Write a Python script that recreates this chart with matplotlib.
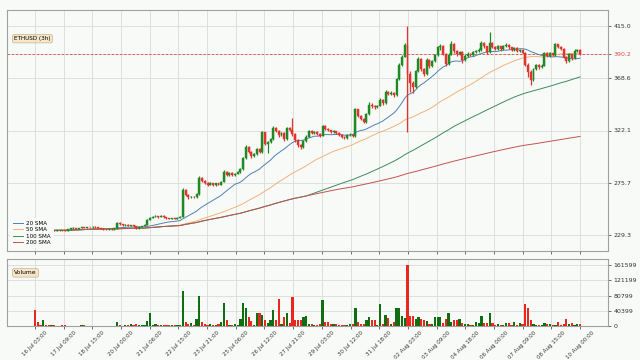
import numpy as np
import pandas as pd
import matplotlib
matplotlib.use("Agg")
import matplotlib.pyplot as plt

# ETHUSD 3h candles, 16 Jul 03:00 -> 10 Aug 00:00
start_time = "2020-07-16 03:00"
first_open = 234.6

closes = [
    233.9, 233.5, 233.3, 234.1, 233.9, 233.4, 233.8, 233.2, 233.6, 233.9,
    233.5, 233.3, 234.6, 235.3, 235.8, 235.2, 235.6, 236.3, 235.9, 236.6,
    236.2, 236.9, 236.4, 235.7, 235.2, 234.8, 234.4, 235.1, 234.6, 235.3,
    240.2, 238.9, 238.1, 238.7, 237.6, 238.2, 237.5, 235.4, 236.8, 237.4,
    238.3, 242.8, 244.9, 245.6, 246.2, 245.4, 246.5, 245.3, 244.6, 243.8,
    244.5, 244.1, 245.0, 245.8, 269.5, 265.2, 262.8, 263.5, 262.9, 265.6,
    279.8, 277.5, 275.8, 274.2, 275.6, 273.5, 275.2, 274.1, 276.5, 285.4,
    282.6, 284.6, 282.4, 283.8, 285.2, 287.9, 297.6, 307.8, 303.4, 299.6,
    301.2, 305.8, 303.1, 320.4, 310.6, 312.0, 314.5, 324.6, 321.8, 318.5,
    319.8, 314.2, 324.0, 322.8, 318.7, 313.4, 309.2, 307.2, 312.5, 316.8,
    321.4, 319.6, 320.8, 318.9, 317.6, 326.0, 323.9, 322.2, 320.7, 321.5,
    319.8, 318.4, 316.2, 315.3, 317.9, 318.6, 317.2, 340.8, 335.2, 332.4,
    329.8, 336.5, 345.1, 343.8, 342.6, 344.1, 349.5, 346.2, 356.4, 354.6,
    355.8, 353.4, 367.5, 380.2, 387.6, 397.8, 372.5, 364.2, 361.0, 374.8,
    385.2, 376.4, 372.0, 384.6, 379.5, 383.6, 388.7, 395.8, 397.2, 390.4,
    381.2, 389.5, 398.6, 392.4, 389.7, 391.8, 384.3, 388.5, 390.2, 389.1,
    391.4, 392.6, 393.8, 399.5, 396.8, 391.6, 399.6, 396.2, 394.5, 396.8,
    394.1, 397.3, 398.2, 395.9, 393.8, 395.2, 392.6, 393.9, 391.2, 380.6,
    373.8, 366.8, 376.9, 380.2, 378.4, 379.6, 390.8, 388.4, 390.5, 389.2,
    398.5, 396.1, 394.3, 387.2, 383.9, 389.6, 386.2, 392.8, 393.5, 390.2,
]

highs = [
    235.1, 234.3, 234.0, 234.6, 234.5, 234.2, 234.2, 234.0, 234.0, 234.3,
    234.2, 233.9, 235.0, 235.7, 236.2, 236.1, 236.0, 236.8, 236.7, 237.0,
    237.0, 237.4, 237.2, 236.7, 236.0, 235.5, 235.1, 235.5, 235.4, 235.7,
    241.0, 240.6, 239.3, 239.2, 239.0, 238.7, 238.6, 237.8, 237.2, 237.8,
    238.8, 243.4, 245.8, 246.3, 246.9, 246.6, 247.0, 246.8, 245.7, 245.0,
    245.0, 244.9, 245.5, 246.4, 271.2, 270.1, 265.8, 264.4, 264.2, 266.4,
    281.5, 280.6, 278.2, 276.4, 276.5, 276.0, 275.9, 275.8, 277.3, 287.0,
    286.0, 285.3, 285.0, 284.5, 286.0, 288.8, 299.0, 309.4, 308.6, 304.0,
    302.3, 307.0, 306.6, 322.0, 321.2, 313.2, 315.6, 326.1, 325.4, 323.0,
    320.9, 320.5, 325.2, 325.0, 333.2, 319.6, 314.2, 310.3, 313.6, 318.0,
    322.6, 322.2, 321.8, 321.5, 319.7, 327.4, 326.8, 324.6, 323.0, 322.4,
    322.1, 320.4, 319.0, 316.9, 318.7, 319.5, 319.3, 342.4, 341.5, 336.0,
    333.1, 338.0, 347.8, 346.4, 344.9, 345.2, 351.0, 350.3, 358.2, 357.5,
    357.0, 356.5, 369.0, 381.8, 389.0, 399.5, 415.0, 374.8, 366.0, 376.2,
    387.3, 386.0, 377.5, 386.0, 385.5, 384.9, 390.0, 397.3, 398.5, 397.8,
    391.2, 390.8, 401.3, 399.4, 393.3, 393.0, 392.5, 389.6, 391.4, 391.0,
    392.4, 393.6, 395.0, 401.2, 400.3, 397.5, 409.4, 400.5, 397.0, 397.9,
    397.5, 398.4, 399.5, 399.0, 396.6, 396.3, 396.0, 394.8, 394.6, 392.0,
    381.8, 375.5, 378.0, 381.5, 381.0, 380.8, 392.2, 391.6, 391.6, 391.3,
    400.1, 399.2, 397.0, 395.0, 388.0, 390.8, 390.3, 394.0, 394.8, 394.2,
]

lows = [
    229.3, 232.8, 232.9, 233.0, 233.5, 233.0, 233.1, 232.8, 232.9, 233.3,
    233.1, 232.9, 233.1, 234.3, 235.0, 234.9, 234.9, 235.3, 235.5, 235.6,
    235.8, 235.9, 236.0, 235.3, 234.8, 234.3, 234.0, 234.1, 234.2, 234.3,
    235.0, 238.3, 237.6, 237.8, 237.1, 237.3, 237.0, 234.6, 235.1, 236.5,
    237.1, 238.0, 242.4, 244.5, 245.2, 244.9, 245.1, 244.8, 244.1, 243.3,
    243.4, 243.6, 243.8, 244.7, 245.4, 264.3, 261.7, 262.0, 262.1, 262.5,
    265.2, 276.4, 275.0, 273.3, 273.8, 272.6, 273.0, 273.4, 273.8, 276.1,
    281.5, 282.0, 281.6, 281.9, 283.2, 284.6, 287.3, 296.8, 302.1, 298.2,
    298.8, 300.6, 301.9, 302.6, 309.3, 302.5, 311.2, 313.9, 320.6, 316.8,
    317.6, 312.8, 313.6, 321.7, 317.5, 312.1, 307.8, 305.4, 306.5, 311.8,
    316.0, 318.7, 318.9, 318.0, 316.6, 317.0, 322.8, 321.3, 319.8, 320.0,
    318.9, 317.5, 315.2, 314.2, 314.8, 317.2, 316.3, 316.8, 333.9, 331.2,
    328.4, 329.2, 336.0, 342.5, 341.3, 341.9, 343.5, 345.0, 345.7, 353.2,
    353.9, 351.8, 352.8, 366.9, 379.4, 386.9, 321.0, 356.3, 355.2, 360.2,
    373.9, 374.8, 370.3, 371.2, 377.8, 378.6, 382.8, 387.9, 393.6, 389.0,
    379.6, 380.4, 388.8, 391.0, 388.2, 388.8, 382.2, 383.5, 387.6, 388.0,
    388.4, 390.5, 391.8, 393.0, 395.6, 390.2, 390.9, 395.0, 393.2, 393.8,
    393.0, 393.4, 396.4, 394.8, 392.5, 393.0, 391.5, 391.8, 390.1, 379.2,
    369.6, 362.4, 366.0, 376.0, 377.0, 377.5, 378.9, 387.2, 387.6, 388.3,
    388.6, 395.0, 393.1, 386.0, 382.3, 383.2, 385.0, 385.6, 391.9, 389.3,
]

volumes = [
    43000, 10000, 3000, 15000, 4000, 4000, 2000, 3500, 1500, 1200,
    3000, 3500, 1500, 1000, 800, 1200, 1000, 1800, 2500, 1500,
    900, 1200, 800, 1000, 700, 900, 1100, 800, 1300, 1000,
    10000, 3500, 1500, 4000, 3000, 4500, 3500, 6000, 2500, 2000,
    3000, 14000, 35000, 4000, 4500, 2500, 2000, 2500, 3000, 3500,
    2500, 3000, 2500, 3500, 92000, 12000, 6000, 9000, 3500, 19000,
    79000, 10000, 5000, 4000, 5500, 3500, 4000, 5000, 10000, 62000,
    15000, 4000, 3500, 4500, 3000, 19000, 61000, 49000, 23000, 13000,
    3500, 35000, 35000, 29000, 15000, 8000, 16000, 43000, 17000, 71000,
    6000, 23000, 35000, 8000, 78000, 16000, 16000, 16000, 24000, 26000,
    5000, 6000, 4000, 3000, 5000, 68000, 10000, 12000, 6000, 5500,
    5000, 3000, 2500, 3500, 2000, 6000, 5500, 49000, 12000, 6000,
    5500, 15000, 23000, 16000, 16000, 4000, 58000, 6000, 29000, 22000,
    5000, 12000, 49000, 48000, 28000, 21000, 161599, 26000, 28000, 19000,
    25000, 19000, 17000, 13000, 7000, 5000, 25000, 24000, 24000, 9000,
    19000, 36000, 12000, 16000, 15000, 19000, 8000, 7000, 6000, 4000,
    4000, 10000, 9500, 28000, 8000, 8500, 36000, 8000, 4000, 4500,
    4000, 3500, 8000, 8000, 4000, 10000, 4000, 8500, 6000, 58000,
    49000, 16000, 6000, 3000, 2500, 2500, 9000, 6500, 5500, 4000,
    3500, 10000, 3500, 4500, 20000, 6500, 7500, 4000, 5000, 5000,
]

sma_periods = [20, 50, 100, 200]
sma_colors = ["#4f81b3", "#f3b27a", "#3d8c5c", "#c25450"]

up_color = "#1e8a24"
down_color = "#e2332c"
vol_up = "#0f6e12"
vol_down = "#e8271f"
bg = "#f8faf8"

close = np.array(closes)
opn = np.concatenate([[first_open], close[:-1]])
high = np.array(highs)
low = np.array(lows)
vol = np.array(volumes)
n = len(close)
x = np.arange(n)
times = pd.date_range(start_time, periods=n, freq="3h")
up = close >= opn
dn = ~up

fig = plt.figure(figsize=(6.4, 3.6), dpi=100, facecolor=bg)
ax = fig.add_axes([0.011, 0.303, 0.939, 0.669], facecolor=bg)
axv = fig.add_axes([0.011, 0.094, 0.939, 0.187], facecolor=bg, sharex=ax)

# candles, drawn per direction
for mask, c in ((up, up_color), (dn, down_color)):
    ax.vlines(x[mask], low[mask], high[mask], color=c, linewidth=0.9, zorder=3)
    ax.bar(x[mask], (close - opn)[mask], bottom=opn[mask], width=0.7, color=c,
           edgecolor=c, linewidth=0.3, zorder=4)

# moving averages
s = pd.Series(close)
for p, c in zip(sma_periods, sma_colors):
    ax.plot(x, s.rolling(p, min_periods=1).mean(), color=c, lw=0.7, label=f"{p} SMA", zorder=2)

last = close[-1]
ax.axhline(last, color="#e04a4a", lw=0.6, ls=(0, (3, 2)), zorder=1)

lo, hi = low.min(), high.max()
r = hi - lo
ax.set_ylim(lo - 0.075 * r, hi + 0.075 * r)
ticks = list(np.linspace(lo, hi, 5))
ax.set_yticks(ticks + [last])
ax.set_yticklabels([f"{t:.1f}" for t in ticks] + [f"{last:.1f}"])
ax.yaxis.tick_right()

leg = ax.legend(loc="lower left", fontsize=4.1, frameon=True, handlelength=1.8,
                borderpad=0.5, labelspacing=0.25, handletextpad=0.6)
leg.get_frame().set_facecolor(bg)
leg.get_frame().set_edgecolor("none")
leg.get_frame().set_alpha(1)

box = dict(boxstyle="round,pad=0.3", facecolor="#f5deb3", edgecolor="#b49a6e", alpha=0.7, lw=0.5)
ax.text(0.012, 0.875, "ETHUSD (3h)", transform=ax.transAxes, fontsize=4.1, bbox=box)

# volume
for mask, c in ((up, vol_up), (dn, vol_down)):
    axv.bar(x[mask], vol[mask], width=0.8, color=c, zorder=3)
vmax = vol.max()
axv.set_ylim(0, vmax * 1.1)
axv.set_yticks(np.linspace(0, vmax, 5))
axv.set_yticklabels([f"{int(v)}" for v in np.linspace(0, vmax, 5)])
axv.yaxis.tick_right()
axv.text(0.012, 0.77, "Volume", transform=axv.transAxes, fontsize=4.3, bbox=box)

xt = np.linspace(0, n - 1, 20)
axv.set_xticks(xt)
axv.set_xticklabels([times[int(t)].strftime("%d %b %H:%M") for t in xt], rotation=45)
axv.set_xlim(-10.2, n - 1 + 10.2)
plt.setp(ax.get_xticklabels(), visible=False)

for a in (ax, axv):
    a.grid(True, color="#d9dcd9", lw=0.6)
    a.set_axisbelow(True)
    a.tick_params(labelsize=4.5, length=2, width=0.5, colors="#333333", pad=2)
    for sp in a.spines.values():
        sp.set_color("#a0a0a0")
        sp.set_linewidth(0.8)
axv.tick_params(axis="x", labelsize=4.0, pad=1)
ax.get_yticklabels()[-1].set_color("#e04a4a")

fig.savefig("out.png", dpi=100, facecolor=bg)
